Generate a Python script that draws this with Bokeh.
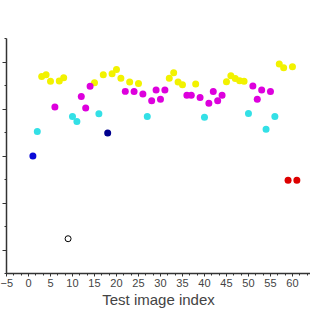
from bokeh.plotting import figure
from bokeh.models import Range1d, SingleIntervalTicker, FixedTicker
from bokeh.embed import file_html
from bokeh.resources import INLINE

# ---- data ----
yellow_x = [3, 4, 5, 7, 8, 15, 17, 19, 20, 21, 23, 25, 32, 33, 34, 35, 38, 45, 46, 47, 48, 49, 57, 58, 60]
yellow_y = [8.38, 8.46, 8.18, 8.19, 8.33, 8.12, 8.46, 8.5, 8.68, 8.31, 8.15, 8.08, 8.31, 8.54, 8.15, 8.03,
            8.06, 8.16, 8.42, 8.3, 8.2, 8.18, 8.92, 8.76, 8.8]

magenta_x = [6, 12, 13, 14, 22, 24, 26, 28, 29, 30, 31, 36, 37, 39, 41, 42, 43, 44, 51, 52, 53, 55]
magenta_y = [7.09, 7.53, 7.04, 7.97, 7.75, 7.74, 7.64, 7.35, 7.81, 7.42, 7.81, 7.59, 7.59, 7.49, 7.24,
             7.75, 7.35, 7.59, 7.98, 7.42, 7.81, 7.75]

cyan_x = [2, 10, 11, 16, 27, 40, 50, 54, 56]
cyan_y = [6.04, 6.68, 6.47, 6.8, 6.68, 6.65, 6.81, 6.14, 6.68]

blue_x = [1]
blue_y = [5.0]

navy_x = [18]
navy_y = [5.98]

red_x = [59, 61]
red_y = [3.97, 3.97]

open_x = [9]
open_y = [1.48]

x_label = "Test image index"
y_major_ticks = [1, 3, 5, 7, 9]
y_minor_ticks = [0, 2, 4, 6, 8, 10]

# ---- figure ----
p = figure(width=310, height=310, output_backend="svg", toolbar_location=None,
           x_range=Range1d(-5, 64.1), y_range=Range1d(0, 10),
           min_border_left=6, min_border_right=0, min_border_top=38, min_border_bottom=0)
p.outline_line_color = None
p.xgrid.visible = False
p.ygrid.visible = False
p.background_fill_color = "white"
p.border_fill_color = "white"

ms = 7
p.scatter(yellow_x, yellow_y, size=ms, fill_color="#F2F200", line_color=None)
p.scatter(magenta_x, magenta_y, size=ms, fill_color="#DD00DD", line_color=None)
p.scatter(cyan_x, cyan_y, size=ms, fill_color="#33E0E6", line_color=None)
p.scatter(blue_x, blue_y, size=ms, fill_color="#0A0AD8", line_color=None)
p.scatter(navy_x, navy_y, size=ms, fill_color="#00008E", line_color=None)
p.scatter(red_x, red_y, size=ms, fill_color="#DD0000", line_color=None)
p.scatter(open_x, open_y, size=6, fill_color="white", line_color="black", line_width=1)

# x axis
xa = p.xaxis[0]
xa.ticker = SingleIntervalTicker(interval=5, num_minor_ticks=3)
xa.axis_label = x_label
xa.axis_label_text_font = "Liberation Sans"
xa.axis_label_text_font_size = "15px"
xa.axis_label_text_font_style = "normal"
xa.axis_label_standoff = 1
xa.major_label_text_font = "Liberation Sans"
xa.major_label_text_font_size = "11px"
xa.major_label_standoff = 2
xa.major_tick_out = 3
xa.major_tick_in = 0
xa.minor_tick_out = 2
xa.minor_tick_in = 0
xa.axis_line_color = "#333333"
xa.axis_line_width = 1.5
xa.major_tick_line_color = "#333333"
xa.minor_tick_line_color = "#333333"

# y axis (its labels lie outside the visible area in the reference)
ya = p.yaxis[0]
ya.ticker = FixedTicker(ticks=y_major_ticks, minor_ticks=y_minor_ticks)
ya.major_label_overrides = {t: "" for t in y_major_ticks}
ya.major_label_standoff = 0
ya.major_tick_out = 4
ya.major_tick_in = 0
ya.minor_tick_out = 2
ya.minor_tick_in = 0
ya.axis_line_color = "#333333"
ya.axis_line_width = 1.5
ya.major_tick_line_color = "#333333"
ya.minor_tick_line_color = "#333333"

open("out.html", "w").write(file_html(p, INLINE))
